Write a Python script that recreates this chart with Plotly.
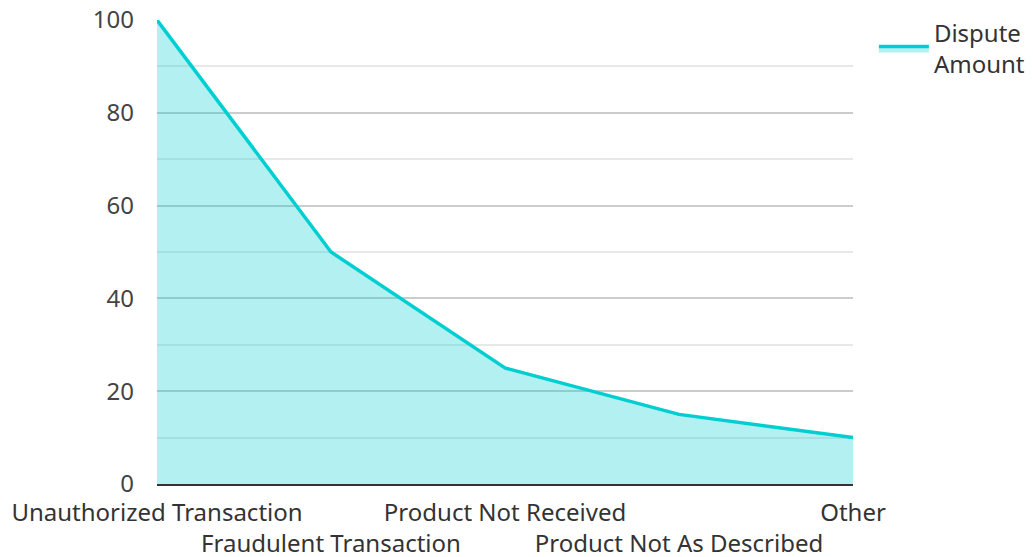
import plotly.graph_objects as go

# Dispute categories and amounts
categories = [
    "Unauthorized Transaction",
    "Fraudulent Transaction",
    "Product Not Received",
    "Product Not As Described",
    "Other",
]
amounts = [100, 50, 25, 15, 10]
series_name = "Dispute<br>Amount"

# Alternate tick labels between two rows so the long names don't collide
tick_text = [c if i % 2 == 0 else "<br>" + c for i, c in enumerate(categories)]

FONT = "Noto Sans, Open Sans, sans-serif"
LINE = "#00ced1"
FILL = "rgba(0,206,209,0.3)"
SIZE = 24

fig = go.Figure(
    go.Scatter(
        x=categories,
        y=amounts,
        mode="lines",
        name=series_name,
        line=dict(color=LINE, width=3.5),
        fill="tozeroy",
        fillcolor=FILL,
    )
)

fig.update_layout(
    width=1033,
    height=557,
    margin=dict(l=157, r=180, t=20, b=73, autoexpand=False),
    paper_bgcolor="white",
    plot_bgcolor="white",
    font=dict(family=FONT, size=SIZE, color="#333"),
    showlegend=True,
    legend=dict(
        x=1.03, y=1.02, xanchor="left", yanchor="top",
        font=dict(family=FONT, size=SIZE, color="#333"),
        bgcolor="rgba(0,0,0,0)",
        itemwidth=50,
    ),
)

fig.update_xaxes(
    type="category",
    range=[0, len(categories) - 1],
    tickmode="array",
    tickvals=categories,
    ticktext=tick_text,
    tickangle=0,
    automargin=False,
    ticklabelstandoff=6,
    showgrid=False,
    showline=True,
    linecolor="#333",
    linewidth=2,
    ticks="",
    tickfont=dict(family=FONT, size=SIZE, color="#333"),
)

fig.update_yaxes(
    range=[0, 100],
    tickvals=[0, 20, 40, 60, 80, 100],
    automargin=False,
    showgrid=True,
    gridcolor="#cccccc",
    gridwidth=1.5,
    minor=dict(tickvals=[10, 30, 50, 70, 90], showgrid=True, gridcolor="#e8e8e8", gridwidth=1.5),
    zeroline=False,
    showline=False,
    ticks="",
    ticklabelstandoff=22,
    tickfont=dict(family=FONT, size=SIZE, color="#444"),
)

fig.write_html("out.html")
